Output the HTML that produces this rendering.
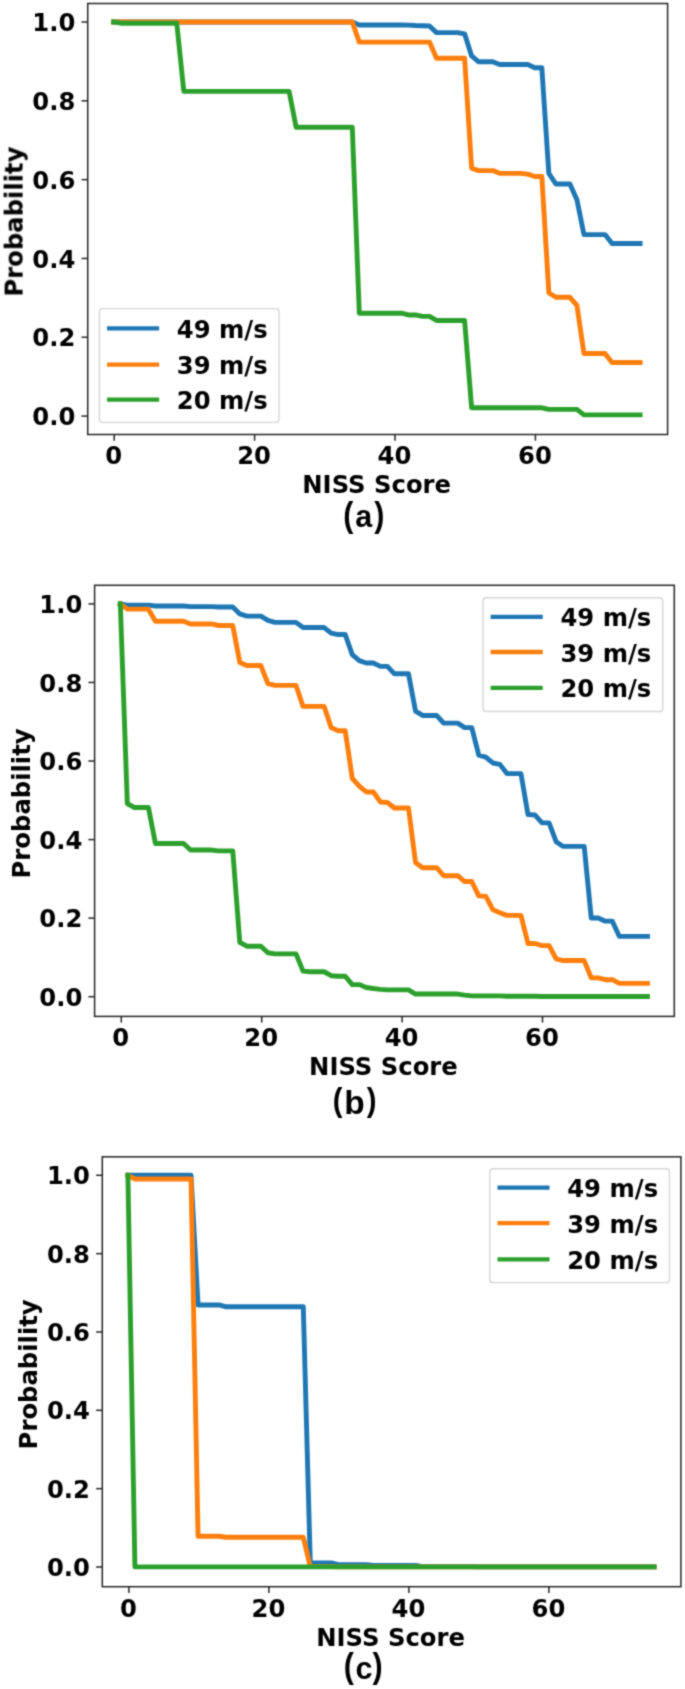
<!DOCTYPE html>
<html lang="en">
<head>
<meta charset="utf-8">
<title>Probability vs NISS Score</title>
<style>
  html, body { margin: 0; padding: 0; background: #ffffff; }
  body { width: 685px; height: 1689px; overflow: hidden; }
  svg { display: block; }
  .t { font-family: "DejaVu Sans", "Liberation Sans", sans-serif; font-weight: bold; font-stretch: normal; font-size: 24.3px; fill: #000000; }
  .sub { font-family: "Liberation Sans", "DejaVu Sans", sans-serif; font-weight: bold; font-size: 33px; fill: #000000; }
  .curve { fill: none; stroke-width: 4.9; stroke-linejoin: round; stroke-linecap: square; }
  .legline { stroke-width: 4.3; stroke-linecap: square; }
  .tick { stroke: #262626; stroke-width: 1.5; }
  .spine { fill: none; stroke: #262626; stroke-width: 1.5; stroke-linejoin: miter; }
  .legbox { fill: #ffffff; fill-opacity: 0.8; stroke: #cccccc; stroke-opacity: 0.8; stroke-width: 1.4; }
</style>
</head>
<body>
<svg width="685" height="1689" viewBox="0 0 685 1689">
<defs><filter id="soft" x="0" y="0" width="100%" height="100%" filterUnits="objectBoundingBox" color-interpolation-filters="sRGB"><feConvolveMatrix order="3" kernelMatrix="0.0361 0.1178 0.0361 0.1178 0.3844 0.1178 0.0361 0.1178 0.0361" divisor="1" edgeMode="duplicate" preserveAlpha="false"/></filter></defs>
<g filter="url(#soft)">
<rect x="0" y="0" width="685" height="1689" fill="#ffffff"/>
<g class="chart" id="chart-a">
<polyline class="curve" stroke="#1f77b4" points="113.6,22 120.62,22 127.64,22 134.66,22 141.68,22 148.7,22 155.72,22 162.74,22 169.76,22 176.78,22 183.8,22 190.82,22 197.84,22 204.86,22 211.88,22 218.9,22 225.92,22 232.94,22 239.96,22 246.98,22 254,22 261.02,22 268.04,22 275.06,22 282.08,22 289.1,22 296.12,22 303.14,22 310.16,22 317.18,22 324.2,22 331.22,22 338.24,22 345.26,22 352.28,22 359.3,24.96 366.32,24.96 373.34,24.96 380.36,24.96 387.38,24.96 394.4,24.96 401.42,24.96 408.44,25.15 415.46,25.55 422.48,25.74 429.5,25.94 436.52,32.64 443.54,32.64 450.56,32.64 457.58,32.64 464.6,33.82 471.62,55.89 478.64,61.8 485.66,61.8 492.68,61.8 499.7,64.56 506.72,64.56 513.74,64.56 520.76,64.56 527.78,64.56 534.8,67.72 541.82,67.72 548.84,173.33 555.86,183.98 562.88,183.98 569.9,183.98 576.92,199.74 583.94,234.58 590.96,234.58 597.98,234.58 605,234.58 612.02,243.48 619.04,243.48 626.06,243.48 633.08,243.48 640.1,243.48"/>
<polyline class="curve" stroke="#ff7f0e" points="113.6,22 120.62,22 127.64,22 134.66,22 141.68,22 148.7,22 155.72,22 162.74,22 169.76,22 176.78,22 183.8,22 190.82,22 197.84,22 204.86,22 211.88,22 218.9,22 225.92,22 232.94,22 239.96,22 246.98,22 254,22 261.02,22 268.04,22 275.06,22 282.08,22 289.1,22 296.12,22 303.14,22 310.16,22 317.18,22 324.2,22 331.22,22 338.24,22 345.26,22 352.28,22 359.3,42.1 366.32,42.1 373.34,42.1 380.36,42.1 387.38,42.1 394.4,42.1 401.42,42.1 408.44,42.1 415.46,42.1 422.48,42.1 429.5,42.1 436.52,58.26 443.54,58.26 450.56,58.26 457.58,58.26 464.6,58.26 471.62,168.21 478.64,170.58 485.66,170.58 492.68,170.58 499.7,173.33 506.72,173.33 513.74,173.33 520.76,173.33 527.78,174.12 534.8,176.49 541.82,176.49 548.84,292.75 555.86,297.28 562.88,297.28 569.9,297.28 576.92,305.36 583.94,353.44 590.96,353.44 597.98,353.44 605,353.44 612.02,362.5 619.04,362.5 626.06,362.5 633.08,362.5 640.1,362.5"/>
<polyline class="curve" stroke="#2ca02c" points="113.6,22 120.62,23.18 127.64,23.18 134.66,23.18 141.68,23.18 148.7,23.18 155.72,23.18 162.74,23.18 169.76,23.18 176.78,23.18 183.8,91.36 190.82,91.36 197.84,91.36 204.86,91.36 211.88,91.36 218.9,91.36 225.92,91.36 232.94,91.36 239.96,91.36 246.98,91.36 254,91.36 261.02,91.36 268.04,91.36 275.06,91.36 282.08,91.36 289.1,91.36 296.12,127.22 303.14,127.22 310.16,127.22 317.18,127.22 324.2,127.22 331.22,127.22 338.24,127.22 345.26,127.22 352.28,127.22 359.3,313.24 366.32,313.24 373.34,313.24 380.36,313.24 387.38,313.24 394.4,313.24 401.42,313.24 408.44,314.97 415.46,314.97 422.48,316.39 429.5,316.39 436.52,320.49 443.54,320.49 450.56,320.49 457.58,320.49 464.6,320.49 471.62,407.82 478.64,407.82 485.66,407.82 492.68,407.82 499.7,407.82 506.72,407.82 513.74,407.82 520.76,407.82 527.78,407.82 534.8,407.82 541.82,407.82 548.84,409.4 555.86,409.4 562.88,409.4 569.9,409.4 576.92,409.4 583.94,414.92 590.96,414.92 597.98,414.92 605,414.92 612.02,414.92 619.04,414.92 626.06,414.92 633.08,414.92 640.1,414.92"/>
<line class="tick" x1="114.2" y1="434.5" x2="114.2" y2="440.7"/>
<text class="t" text-anchor="middle" transform="translate(113.7 464.4) scale(1 1.045)">0</text>
<line class="tick" x1="254.6" y1="434.5" x2="254.6" y2="440.7"/>
<text class="t" text-anchor="middle" transform="translate(254.1 464.4) scale(1 1.045)">20</text>
<line class="tick" x1="395" y1="434.5" x2="395" y2="440.7"/>
<text class="t" text-anchor="middle" transform="translate(394.5 464.4) scale(1 1.045)">40</text>
<line class="tick" x1="535.4" y1="434.5" x2="535.4" y2="440.7"/>
<text class="t" text-anchor="middle" transform="translate(534.9 464.4) scale(1 1.045)">60</text>
<line class="tick" x1="81.5" y1="416.1" x2="87.7" y2="416.1"/>
<text class="t" text-anchor="end" transform="translate(75.4 425.2) scale(1 1.045)">0.0</text>
<line class="tick" x1="81.5" y1="337.28" x2="87.7" y2="337.28"/>
<text class="t" text-anchor="end" transform="translate(75.4 346.38) scale(1 1.045)">0.2</text>
<line class="tick" x1="81.5" y1="258.46" x2="87.7" y2="258.46"/>
<text class="t" text-anchor="end" transform="translate(75.4 267.56) scale(1 1.045)">0.4</text>
<line class="tick" x1="81.5" y1="179.64" x2="87.7" y2="179.64"/>
<text class="t" text-anchor="end" transform="translate(75.4 188.74) scale(1 1.045)">0.6</text>
<line class="tick" x1="81.5" y1="100.82" x2="87.7" y2="100.82"/>
<text class="t" text-anchor="end" transform="translate(75.4 109.92) scale(1 1.045)">0.8</text>
<line class="tick" x1="81.5" y1="22" x2="87.7" y2="22"/>
<text class="t" text-anchor="end" transform="translate(75.4 31.1) scale(1 1.045)">1.0</text>
<rect class="spine" x="87.7" y="3.5" width="579.9" height="431"/>
<text class="t" text-anchor="middle" transform="translate(376.65 493) scale(1 1.045)">NISS Score</text>
<text class="t" text-anchor="middle" transform="translate(22.6 221.6) rotate(-90)">Probability</text>
<rect class="legbox" x="99.4" y="308.6" width="179.7" height="113.8" rx="3.2" ry="3.2"/>
<line class="legline" stroke="#1f77b4" x1="109.2" y1="328.3" x2="157" y2="328.3"/>
<text class="t" transform="translate(176.8 337.8) scale(1 1.045)">49 m/s</text>
<line class="legline" stroke="#ff7f0e" x1="109.2" y1="364.6" x2="157" y2="364.6"/>
<text class="t" transform="translate(176.8 374.1) scale(1 1.045)">39 m/s</text>
<line class="legline" stroke="#2ca02c" x1="109.2" y1="399.6" x2="157" y2="399.6"/>
<text class="t" transform="translate(176.8 409.1) scale(1 1.045)">20 m/s</text>
<text class="sub"><tspan x="343.3" y="526.6" font-size="35.5" textLength="10.17" lengthAdjust="spacingAndGlyphs">(</tspan><tspan x="355.2" y="526.8" font-size="30.5">a</tspan><tspan x="374.3" y="526.6" font-size="35.5" textLength="10.17" lengthAdjust="spacingAndGlyphs">)</tspan></text>
</g>
<g class="chart" id="chart-b">
<polyline class="curve" stroke="#1f77b4" points="120.3,603.9 127.33,605.08 134.36,605.08 141.39,605.08 148.42,605.08 155.44,606.02 162.47,606.02 169.5,606.02 176.53,606.02 183.56,606.02 190.59,606.65 197.62,606.65 204.65,606.65 211.68,606.65 218.71,607.04 225.74,607.04 232.76,607.04 239.79,613.92 246.82,616.08 253.85,616.08 260.88,616.08 267.91,620.4 274.94,622.36 281.97,622.36 289,622.36 296.02,622.36 303.05,627.55 310.08,627.55 317.11,627.55 324.14,627.55 331.17,633.09 338.2,634.54 345.23,634.54 352.26,654.57 359.29,660.66 366.31,663.02 373.34,663.02 380.37,666.36 387.4,666.36 394.43,673.82 401.46,673.82 408.49,673.82 415.52,711.13 422.55,715.46 429.58,715.46 436.61,715.46 443.63,723.11 450.66,723.11 457.69,723.11 464.72,727.63 471.75,727.63 478.78,755.13 485.81,757.09 492.84,762.98 499.87,764.36 506.89,773.59 513.92,773.59 520.95,773.59 527.98,814.56 535.01,815.03 542.04,822.89 549.07,822.89 556.1,841.66 563.13,846.41 570.16,846.41 577.18,846.41 584.21,846.41 591.24,918.02 598.27,918.02 605.3,921.16 612.33,921.16 619.36,936.41 626.39,936.41 633.42,936.41 640.45,936.41 647.47,936.41"/>
<polyline class="curve" stroke="#ff7f0e" points="120.3,603.9 127.33,609.16 134.36,609.16 141.39,609.16 148.42,609.16 155.44,621.18 162.47,621.18 169.5,621.18 176.53,621.18 183.56,621.18 190.59,623.93 197.62,623.93 204.65,623.93 211.68,623.93 218.71,625.5 225.74,625.5 232.76,625.5 239.79,662.43 246.82,665.57 253.85,665.57 260.88,665.57 267.91,683.64 274.94,685.41 281.97,685.41 289,685.41 296.02,685.41 303.05,706.42 310.08,706.42 317.11,706.42 324.14,706.42 331.17,727.63 338.2,730.77 345.23,730.77 352.26,778.3 359.29,786.16 366.31,791.97 373.34,791.97 380.37,801.95 387.4,802.46 394.43,807.96 401.46,807.96 408.49,807.96 415.52,862.48 422.55,867.74 429.58,867.74 436.61,867.74 443.63,875.72 450.66,875.72 457.69,875.72 464.72,881.53 471.75,881.53 478.78,895.91 485.81,896.42 492.84,909.62 499.87,912.76 506.89,915.39 513.92,915.39 520.95,915.39 527.98,943.51 535.01,943.51 542.04,945.64 549.07,945.64 556.1,958.76 563.13,960.56 570.16,960.56 577.18,960.56 584.21,960.56 591.24,977.85 598.27,977.85 605.3,979.69 612.33,979.69 619.36,983.34 626.39,983.34 633.42,983.34 640.45,983.34 647.47,983.34"/>
<polyline class="curve" stroke="#2ca02c" points="120.3,603.9 127.33,803.56 134.36,807.49 141.39,807.49 148.42,807.49 155.44,843.51 162.47,843.51 169.5,843.51 176.53,843.51 183.56,843.51 190.59,850.07 197.62,850.07 204.65,850.07 211.68,850.07 218.71,850.85 225.74,850.85 232.76,850.85 239.79,942.3 246.82,946.23 253.85,946.23 260.88,946.23 267.91,952.78 274.94,953.88 281.97,953.88 289,953.88 296.02,953.88 303.05,971.17 310.08,971.76 317.11,971.76 324.14,971.76 331.17,975.69 338.2,976.2 345.23,976.2 352.26,984.6 359.29,984.6 366.31,987.51 373.34,988.53 380.37,989.32 387.4,989.87 394.43,989.87 401.46,989.87 408.49,989.87 415.52,994.07 422.55,994.07 429.58,994.07 436.61,994.07 443.63,994.07 450.66,994.07 457.69,994.07 464.72,995.13 471.75,995.91 478.78,995.91 485.81,995.91 492.84,995.91 499.87,995.91 506.89,996.31 513.92,996.31 520.95,996.31 527.98,996.31 535.01,996.31 542.04,996.5 549.07,996.5 556.1,996.5 563.13,996.5 570.16,996.5 577.18,996.5 584.21,996.5 591.24,996.5 598.27,996.5 605.3,996.5 612.33,996.5 619.36,996.5 626.39,996.5 633.42,996.5 640.45,996.5 647.47,996.5"/>
<line class="tick" x1="121.3" y1="1016.4" x2="121.3" y2="1022.6"/>
<text class="t" text-anchor="middle" transform="translate(120.8 1046.3) scale(1 1.045)">0</text>
<line class="tick" x1="261.7" y1="1016.4" x2="261.7" y2="1022.6"/>
<text class="t" text-anchor="middle" transform="translate(261.2 1046.3) scale(1 1.045)">20</text>
<line class="tick" x1="402.1" y1="1016.4" x2="402.1" y2="1022.6"/>
<text class="t" text-anchor="middle" transform="translate(401.6 1046.3) scale(1 1.045)">40</text>
<line class="tick" x1="542.5" y1="1016.4" x2="542.5" y2="1022.6"/>
<text class="t" text-anchor="middle" transform="translate(542 1046.3) scale(1 1.045)">60</text>
<line class="tick" x1="88.4" y1="996.7" x2="94.6" y2="996.7"/>
<text class="t" text-anchor="end" transform="translate(82.3 1005.8) scale(1 1.045)">0.0</text>
<line class="tick" x1="88.4" y1="918.14" x2="94.6" y2="918.14"/>
<text class="t" text-anchor="end" transform="translate(82.3 927.24) scale(1 1.045)">0.2</text>
<line class="tick" x1="88.4" y1="839.58" x2="94.6" y2="839.58"/>
<text class="t" text-anchor="end" transform="translate(82.3 848.68) scale(1 1.045)">0.4</text>
<line class="tick" x1="88.4" y1="761.02" x2="94.6" y2="761.02"/>
<text class="t" text-anchor="end" transform="translate(82.3 770.12) scale(1 1.045)">0.6</text>
<line class="tick" x1="88.4" y1="682.46" x2="94.6" y2="682.46"/>
<text class="t" text-anchor="end" transform="translate(82.3 691.56) scale(1 1.045)">0.8</text>
<line class="tick" x1="88.4" y1="603.9" x2="94.6" y2="603.9"/>
<text class="t" text-anchor="end" transform="translate(82.3 613) scale(1 1.045)">1.0</text>
<rect class="spine" x="94.6" y="585.3" width="579.7" height="431.1"/>
<text class="t" text-anchor="middle" transform="translate(383.45 1075.3) scale(1 1.045)">NISS Score</text>
<text class="t" text-anchor="middle" transform="translate(29.5 803.45) rotate(-90)">Probability</text>
<rect class="legbox" x="483" y="597.7" width="179.7" height="113.8" rx="3.2" ry="3.2"/>
<line class="legline" stroke="#1f77b4" x1="492.8" y1="616.8" x2="540.6" y2="616.8"/>
<text class="t" transform="translate(560.4 626.3) scale(1 1.045)">49 m/s</text>
<line class="legline" stroke="#ff7f0e" x1="492.8" y1="652" x2="540.6" y2="652"/>
<text class="t" transform="translate(560.4 661.5) scale(1 1.045)">39 m/s</text>
<line class="legline" stroke="#2ca02c" x1="492.8" y1="687.8" x2="540.6" y2="687.8"/>
<text class="t" transform="translate(560.4 697.3) scale(1 1.045)">20 m/s</text>
<text class="sub"><tspan x="332.8" y="1111.2" font-size="34" textLength="9.74" lengthAdjust="spacingAndGlyphs">(</tspan><tspan x="344.2" y="1113.9" font-size="33.5">b</tspan><tspan x="366.8" y="1111.2" font-size="34" textLength="9.74" lengthAdjust="spacingAndGlyphs">)</tspan></text>
</g>
<g class="chart" id="chart-c">
<polyline class="curve" stroke="#1f77b4" points="127.9,1175.3 134.91,1175.3 141.93,1175.3 148.94,1175.3 155.96,1175.3 162.97,1175.3 169.99,1175.3 177,1175.3 184.02,1175.3 191.03,1175.3 198.05,1304.95 205.06,1304.95 212.08,1304.95 219.09,1304.95 226.11,1306.79 233.12,1306.79 240.14,1306.79 247.16,1306.79 254.17,1306.79 261.19,1306.79 268.2,1306.79 275.22,1306.79 282.23,1306.79 289.25,1306.79 296.26,1306.79 303.27,1306.79 310.29,1562.89 317.31,1562.89 324.32,1562.89 331.34,1562.89 338.35,1564.65 345.37,1564.65 352.38,1564.65 359.39,1564.65 366.41,1564.65 373.42,1565.43 380.44,1565.43 387.46,1565.43 394.47,1565.43 401.49,1565.43 408.5,1565.43 415.51,1565.43 422.53,1566.61 429.54,1566.61 436.56,1566.61 443.58,1566.61 450.59,1566.61 457.61,1566.61 464.62,1566.61 471.63,1566.61 478.65,1566.88 485.66,1566.88 492.68,1566.88 499.69,1566.88 506.71,1566.88 513.73,1566.88 520.74,1566.88 527.75,1566.88 534.77,1566.88 541.78,1566.88 548.8,1566.88 555.81,1566.88 562.83,1566.88 569.85,1566.88 576.86,1566.88 583.88,1566.88 590.89,1566.88 597.9,1566.88 604.92,1566.88 611.93,1566.88 618.95,1566.88 625.97,1566.88 632.98,1566.88 640,1566.88 647.01,1566.88 654.02,1566.88"/>
<polyline class="curve" stroke="#ff7f0e" points="127.9,1175.3 134.91,1179.02 141.93,1179.02 148.94,1179.02 155.96,1179.02 162.97,1179.02 169.99,1179.02 177,1179.02 184.02,1179.02 191.03,1179.02 198.05,1536.21 205.06,1536.21 212.08,1536.21 219.09,1536.21 226.11,1537.27 233.12,1537.27 240.14,1537.27 247.16,1537.27 254.17,1537.27 261.19,1537.27 268.2,1537.27 275.22,1537.27 282.23,1537.27 289.25,1537.27 296.26,1537.27 303.27,1537.27 310.29,1566.61 317.31,1566.61 324.32,1566.61 331.34,1566.61 338.35,1566.88 345.37,1566.88 352.38,1566.88 359.39,1566.88 366.41,1566.88 373.42,1566.88 380.44,1566.88 387.46,1566.88 394.47,1566.88 401.49,1566.88 408.5,1566.88 415.51,1566.88 422.53,1566.88 429.54,1566.88 436.56,1566.88 443.58,1566.88 450.59,1566.88 457.61,1566.88 464.62,1566.88 471.63,1566.88 478.65,1566.88 485.66,1566.88 492.68,1566.88 499.69,1566.88 506.71,1566.88 513.73,1566.88 520.74,1566.88 527.75,1566.88 534.77,1566.88 541.78,1566.88 548.8,1566.88 555.81,1566.88 562.83,1566.88 569.85,1566.88 576.86,1566.88 583.88,1566.88 590.89,1566.88 597.9,1566.88 604.92,1566.88 611.93,1566.88 618.95,1566.88 625.97,1566.88 632.98,1566.88 640,1566.88 647.01,1566.88 654.02,1566.88"/>
<polyline class="curve" stroke="#2ca02c" points="127.9,1175.3 134.91,1566.88 141.93,1566.88 148.94,1566.88 155.96,1566.88 162.97,1566.88 169.99,1566.88 177,1566.88 184.02,1566.88 191.03,1566.88 198.05,1566.88 205.06,1566.88 212.08,1566.88 219.09,1566.88 226.11,1566.88 233.12,1566.88 240.14,1566.88 247.16,1566.88 254.17,1566.88 261.19,1566.88 268.2,1566.88 275.22,1566.88 282.23,1566.88 289.25,1566.88 296.26,1566.88 303.27,1566.88 310.29,1566.88 317.31,1566.88 324.32,1566.88 331.34,1566.88 338.35,1566.88 345.37,1566.88 352.38,1566.88 359.39,1566.88 366.41,1566.88 373.42,1566.88 380.44,1566.88 387.46,1566.88 394.47,1566.88 401.49,1566.88 408.5,1566.88 415.51,1566.88 422.53,1566.88 429.54,1566.88 436.56,1566.88 443.58,1566.88 450.59,1566.88 457.61,1566.88 464.62,1566.88 471.63,1566.88 478.65,1566.88 485.66,1566.88 492.68,1566.88 499.69,1566.88 506.71,1566.88 513.73,1566.88 520.74,1566.88 527.75,1566.88 534.77,1566.88 541.78,1566.88 548.8,1566.88 555.81,1566.88 562.83,1566.88 569.85,1566.88 576.86,1566.88 583.88,1566.88 590.89,1566.88 597.9,1566.88 604.92,1566.88 611.93,1566.88 618.95,1566.88 625.97,1566.88 632.98,1566.88 640,1566.88 647.01,1566.88 654.02,1566.88"/>
<line class="tick" x1="128.9" y1="1586.7" x2="128.9" y2="1592.9"/>
<text class="t" text-anchor="middle" transform="translate(128.4 1616.6) scale(1 1.045)">0</text>
<line class="tick" x1="268.9" y1="1586.7" x2="268.9" y2="1592.9"/>
<text class="t" text-anchor="middle" transform="translate(268.4 1616.6) scale(1 1.045)">20</text>
<line class="tick" x1="408.9" y1="1586.7" x2="408.9" y2="1592.9"/>
<text class="t" text-anchor="middle" transform="translate(408.4 1616.6) scale(1 1.045)">40</text>
<line class="tick" x1="548.9" y1="1586.7" x2="548.9" y2="1592.9"/>
<text class="t" text-anchor="middle" transform="translate(548.4 1616.6) scale(1 1.045)">60</text>
<line class="tick" x1="96.1" y1="1567" x2="102.3" y2="1567"/>
<text class="t" text-anchor="end" transform="translate(90 1576.1) scale(1 1.045)">0.0</text>
<line class="tick" x1="96.1" y1="1488.66" x2="102.3" y2="1488.66"/>
<text class="t" text-anchor="end" transform="translate(90 1497.76) scale(1 1.045)">0.2</text>
<line class="tick" x1="96.1" y1="1410.32" x2="102.3" y2="1410.32"/>
<text class="t" text-anchor="end" transform="translate(90 1419.42) scale(1 1.045)">0.4</text>
<line class="tick" x1="96.1" y1="1331.98" x2="102.3" y2="1331.98"/>
<text class="t" text-anchor="end" transform="translate(90 1341.08) scale(1 1.045)">0.6</text>
<line class="tick" x1="96.1" y1="1253.64" x2="102.3" y2="1253.64"/>
<text class="t" text-anchor="end" transform="translate(90 1262.74) scale(1 1.045)">0.8</text>
<line class="tick" x1="96.1" y1="1175.3" x2="102.3" y2="1175.3"/>
<text class="t" text-anchor="end" transform="translate(90 1184.4) scale(1 1.045)">1.0</text>
<rect class="spine" x="102.3" y="1156.8" width="578.6" height="429.9"/>
<text class="t" text-anchor="middle" transform="translate(390.6 1645.6) scale(1 1.045)">NISS Score</text>
<text class="t" text-anchor="middle" transform="translate(37.2 1374.35) rotate(-90)">Probability</text>
<rect class="legbox" x="489.8" y="1168.8" width="179.7" height="113.8" rx="3.2" ry="3.2"/>
<line class="legline" stroke="#1f77b4" x1="499.6" y1="1187.7" x2="547.4" y2="1187.7"/>
<text class="t" transform="translate(567.2 1197.2) scale(1 1.045)">49 m/s</text>
<line class="legline" stroke="#ff7f0e" x1="499.6" y1="1223.1" x2="547.4" y2="1223.1"/>
<text class="t" transform="translate(567.2 1232.6) scale(1 1.045)">39 m/s</text>
<line class="legline" stroke="#2ca02c" x1="499.6" y1="1259.3" x2="547.4" y2="1259.3"/>
<text class="t" transform="translate(567.2 1268.8) scale(1 1.045)">20 m/s</text>
<text class="sub"><tspan x="343.8" y="1678.1" font-size="35.5" textLength="10.17" lengthAdjust="spacingAndGlyphs">(</tspan><tspan x="355.6" y="1678.8" font-size="30.5">c</tspan><tspan x="372.4" y="1678.1" font-size="35.5" textLength="10.17" lengthAdjust="spacingAndGlyphs">)</tspan></text>
</g>
</g>
</svg>
</body>
</html>
